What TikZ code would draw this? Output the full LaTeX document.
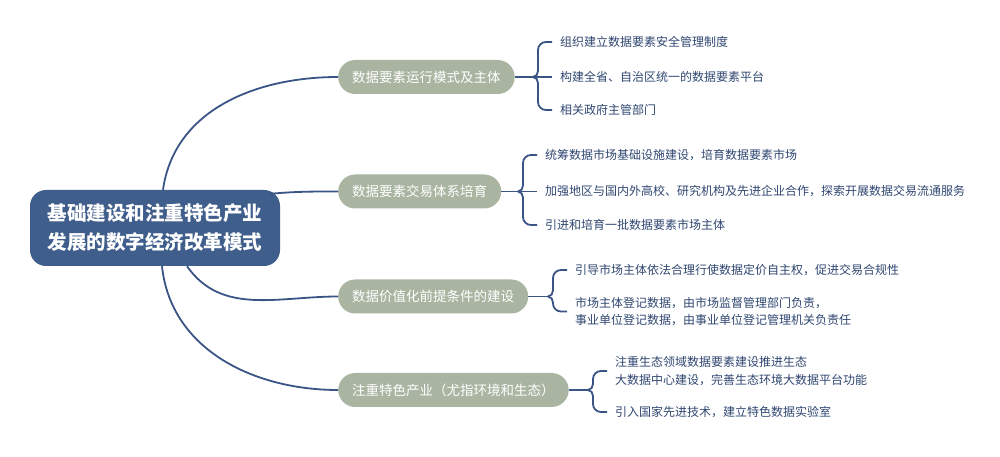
\documentclass[tikz,border=0pt]{standalone}
\usepackage{fontspec}
\setmainfont{Noto Sans CJK SC}

\definecolor{rootblue}{HTML}{3F5E8C}
\definecolor{linkblue}{HTML}{3A5585}
\definecolor{sage}{HTML}{A9B4A1}
\definecolor{leafink}{HTML}{2F4670}

\tikzset{
  root/.style={fill=rootblue, text=white, rounded corners=16pt,
    minimum width=250pt, minimum height=76pt, align=center,
    font=\fontsize{19.5}{29}\selectfont\bfseries},
  topic/.style={fill=sage, text=white, rounded corners=17pt,
    minimum height=34pt, inner xsep=14pt, anchor=west,
    font=\fontsize{13.5}{16}\selectfont},
  leaf/.style={text=leafink, anchor=west, inner xsep=0pt, align=left,
    font=\fontsize{12}{17.5}\selectfont},
  link/.style={draw=linkblue, line width=1.8pt},
}

\begin{document}
\begin{tikzpicture}[x=1pt,y=1pt]

\useasboundingbox (0,0) rectangle (1000,457);

% -------------------------------------------------
% Centre
% -------------------------------------------------
\node[root] (root) at (155,229) {基础建设和注重特色产业\\发展的数字经济改革模式};

% -------------------------------------------------
% Branches
% -------------------------------------------------
\node[topic] (b1) at (338,380)   {数据要素运行模式及主体};
\node[topic] (b2) at (338,265.5) {数据要素交易体系培育};
\node[topic] (b3) at (338,160.5) {数据价值化前提条件的建设};
\node[topic] (b4) at (338,67)    {注重特色产业（尤指环境和生态）};

\draw[link] ([xshift=8pt]root.north) to[out=82,in=180] (b1.west);
\draw[link] ([xshift=-10pt,yshift=-4pt]root.north east) to[out=5,in=180] (b2.west);
\draw[link] ([xshift=32pt]root.south) to[out=-55,in=180] (b3.west);
\draw[link] ([xshift=7pt]root.south) to[out=-84,in=180] (b4.west);

% -------------------------------------------------
% Leaves
% -------------------------------------------------
\foreach \y/\t [count=\i] in {415/组织建立数据要素安全管理制度,
    380/构建全省、自治区统一的数据要素平台, 347/相关政府主管部门}
  \node[leaf] (a\i) at (560,\y) {\t};

\foreach \y/\t [count=\i] in {302/统筹数据市场基础设施建设，培育数据要素市场,
    265.5/加强地区与国内外高校、研究机构及先进企业合作，探索开展数据交易流通服务,
    232/引进和培育一批数据要素市场主体}
  \node[leaf] (c\i) at (545,\y) {\t};

\node[leaf] (d1) at (575,187) {引导市场主体依法合理行使数据定价自主权，促进交易合规性};
\node[leaf] (d2) at (575,145.5) {市场主体登记数据，由市场监督管理部门负责，\\事业单位登记数据，由事业单位登记管理机关负责任};

\node[leaf] (e1) at (615,86) {注重生态领域数据要素建设推进生态\\大数据中心建设，完善生态环境大数据平台功能};
\node[leaf] (e2) at (615,45) {引入国家先进技术，建立特色数据实验室};

% -------------------------------------------------
% Braces
% -------------------------------------------------
\coordinate (j1) at (533,380);
\coordinate (j2) at (518,265.5);
\coordinate (j3) at (548,160.5);
\coordinate (j4) at (588,67);

\draw[link] (b1.east) -- (j1) -- ([xshift=-8pt]a2.west);
\draw[link] (b2.east) -- (j2) -- ([xshift=-8pt]c2.west);
\draw[link] (b3.east) -- (j3);
\draw[link] (b4.east) -- (j4);

\foreach \j/\n/\h/\a in {j1/a1/6/-90, j1/a3/-6/90, j2/c1/6/-90, j2/c3/-6/90,
    j3/d1/6/-90, j3/d2/-6/90, j4/e1/6/-90, j4/e2/-6/90}
  \draw[link] (\j) to[out=0,in=\a] ++(5,\h)
    [rounded corners=8pt] |- ([xshift=-8pt]\n.west);

\end{tikzpicture}
\end{document}
